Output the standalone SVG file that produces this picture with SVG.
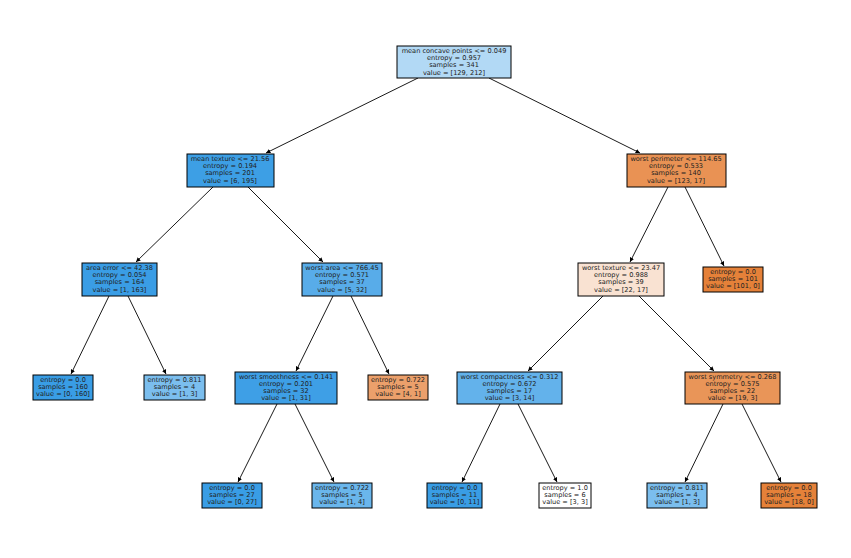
<svg xmlns="http://www.w3.org/2000/svg" width="851" height="558" viewBox="0 0 851 558">
<defs>
<style>
.n rect{stroke:#000;stroke-width:1}
text{font-family:"DejaVu Sans",sans-serif;font-size:6.6px;fill:#222;text-anchor:middle;dominant-baseline:central}
.e line{stroke:#000;stroke-width:0.9;marker-end:url(#a)}
</style>
<marker id="a" viewBox="0 0 6 6" refX="6" refY="3" markerWidth="5" markerHeight="5" orient="auto"><path d="M0,0L6,3L0,6z" fill="#000"/></marker>
</defs>
<rect x="0" y="0" width="851" height="558" fill="#fff"/>
<g class="e">
<line x1="418" y1="78" x2="266" y2="153"/>
<line x1="489" y1="78" x2="640" y2="153"/>
<line x1="213" y1="187" x2="136" y2="262"/>
<line x1="248" y1="187" x2="323" y2="262"/>
<line x1="668" y1="187" x2="630" y2="262"/>
<line x1="685" y1="187" x2="724" y2="266"/>
<line x1="109" y1="296" x2="71" y2="374"/>
<line x1="128" y1="296" x2="166" y2="374"/>
<line x1="333" y1="296" x2="296" y2="371"/>
<line x1="351" y1="296" x2="389" y2="374"/>
<line x1="603" y1="296" x2="528" y2="371"/>
<line x1="639" y1="296" x2="714" y2="371"/>
<line x1="277" y1="404" x2="238" y2="482"/>
<line x1="295" y1="404" x2="334" y2="482"/>
<line x1="500" y1="404" x2="462" y2="482"/>
<line x1="518" y1="404" x2="557" y2="482"/>
<line x1="723" y1="404" x2="685" y2="482"/>
<line x1="742" y1="404" x2="781" y2="482"/>
</g>
<g id="n0" class="n"><rect x="397" y="46" width="114" height="32" fill="#b2d9f5"/><text x="454" y="51">mean concave points &lt;= 0.049</text><text x="454" y="58">entropy = 0.957</text><text x="454" y="65">samples = 341</text><text x="454" y="72.5">value = [129, 212]</text></g>
<g id="n1" class="n"><rect x="187" y="154" width="87" height="33" fill="#3d9fe5"/><text x="230" y="159">mean texture &lt;= 21.56</text><text x="230" y="166">entropy = 0.194</text><text x="230" y="173">samples = 201</text><text x="230" y="180.5">value = [6, 195]</text></g>
<g id="n2" class="n"><rect x="627" y="154" width="99" height="33" fill="#e99254"/><text x="676" y="159">worst perimeter &lt;= 114.65</text><text x="676" y="166">entropy = 0.533</text><text x="676" y="173">samples = 140</text><text x="676" y="180.5">value = [123, 17]</text></g>
<g id="n3" class="n"><rect x="82" y="263" width="75" height="33" fill="#3a9de5"/><text x="119.5" y="268">area error &lt;= 42.38</text><text x="119.5" y="275">entropy = 0.054</text><text x="119.5" y="282">samples = 164</text><text x="119.5" y="289.5">value = [1, 163]</text></g>
<g id="n4" class="n"><rect x="302" y="263" width="80" height="33" fill="#58ace9"/><text x="342" y="268">worst area &lt;= 766.45</text><text x="342" y="275">entropy = 0.571</text><text x="342" y="282">samples = 37</text><text x="342" y="289.5">value = [5, 32]</text></g>
<g id="n5" class="n"><rect x="578" y="263" width="86" height="33" fill="#f9e2d2"/><text x="621" y="268">worst texture &lt;= 23.47</text><text x="621" y="275">entropy = 0.988</text><text x="621" y="282">samples = 39</text><text x="621" y="289.5">value = [22, 17]</text></g>
<g id="n6" class="n"><rect x="703" y="267" width="60" height="25" fill="#e58139"/><text x="733" y="271.5">entropy = 0.0</text><text x="733" y="278.5">samples = 101</text><text x="733" y="286">value = [101, 0]</text></g>
<g id="n7" class="n"><rect x="33" y="375" width="60" height="25" fill="#399de5"/><text x="63" y="379.5">entropy = 0.0</text><text x="63" y="386.5">samples = 160</text><text x="63" y="394">value = [0, 160]</text></g>
<g id="n8" class="n"><rect x="144" y="375" width="61" height="25" fill="#7bbeee"/><text x="174.5" y="379.5">entropy = 0.811</text><text x="174.5" y="386.5">samples = 4</text><text x="174.5" y="394">value = [1, 3]</text></g>
<g id="n9" class="n"><rect x="235" y="372" width="102" height="32" fill="#3e9fe6"/><text x="286" y="377">worst smoothness &lt;= 0.141</text><text x="286" y="384">entropy = 0.201</text><text x="286" y="391">samples = 32</text><text x="286" y="398">value = [1, 31]</text></g>
<g id="n10" class="n"><rect x="368" y="375" width="60" height="25" fill="#eca06b"/><text x="398" y="379.5">entropy = 0.722</text><text x="398" y="386.5">samples = 5</text><text x="398" y="394">value = [4, 1]</text></g>
<g id="n11" class="n"><rect x="457" y="372" width="105" height="32" fill="#63b2eb"/><text x="509.5" y="377">worst compactness &lt;= 0.312</text><text x="509.5" y="384">entropy = 0.672</text><text x="509.5" y="391">samples = 17</text><text x="509.5" y="398">value = [3, 14]</text></g>
<g id="n12" class="n"><rect x="685" y="372" width="95" height="32" fill="#e99558"/><text x="732.5" y="377">worst symmetry &lt;= 0.268</text><text x="732.5" y="384">entropy = 0.575</text><text x="732.5" y="391">samples = 22</text><text x="732.5" y="398">value = [19, 3]</text></g>
<g id="n13" class="n"><rect x="202" y="483" width="60" height="25" fill="#399de5"/><text x="232" y="487.5">entropy = 0.0</text><text x="232" y="494.5">samples = 27</text><text x="232" y="502">value = [0, 27]</text></g>
<g id="n14" class="n"><rect x="312" y="483" width="60" height="25" fill="#6ab6ec"/><text x="342" y="487.5">entropy = 0.722</text><text x="342" y="494.5">samples = 5</text><text x="342" y="502">value = [1, 4]</text></g>
<g id="n15" class="n"><rect x="427" y="483" width="55" height="25" fill="#399de5"/><text x="454.5" y="487.5">entropy = 0.0</text><text x="454.5" y="494.5">samples = 11</text><text x="454.5" y="502">value = [0, 11]</text></g>
<g id="n16" class="n"><rect x="539" y="483" width="52" height="25" fill="#ffffff"/><text x="565" y="487.5">entropy = 1.0</text><text x="565" y="494.5">samples = 6</text><text x="565" y="502">value = [3, 3]</text></g>
<g id="n17" class="n"><rect x="647" y="483" width="60" height="25" fill="#7bbeee"/><text x="677" y="487.5">entropy = 0.811</text><text x="677" y="494.5">samples = 4</text><text x="677" y="502">value = [1, 3]</text></g>
<g id="n18" class="n"><rect x="761" y="483" width="56" height="25" fill="#e58139"/><text x="789" y="487.5">entropy = 0.0</text><text x="789" y="494.5">samples = 18</text><text x="789" y="502">value = [18, 0]</text></g>
</svg>
